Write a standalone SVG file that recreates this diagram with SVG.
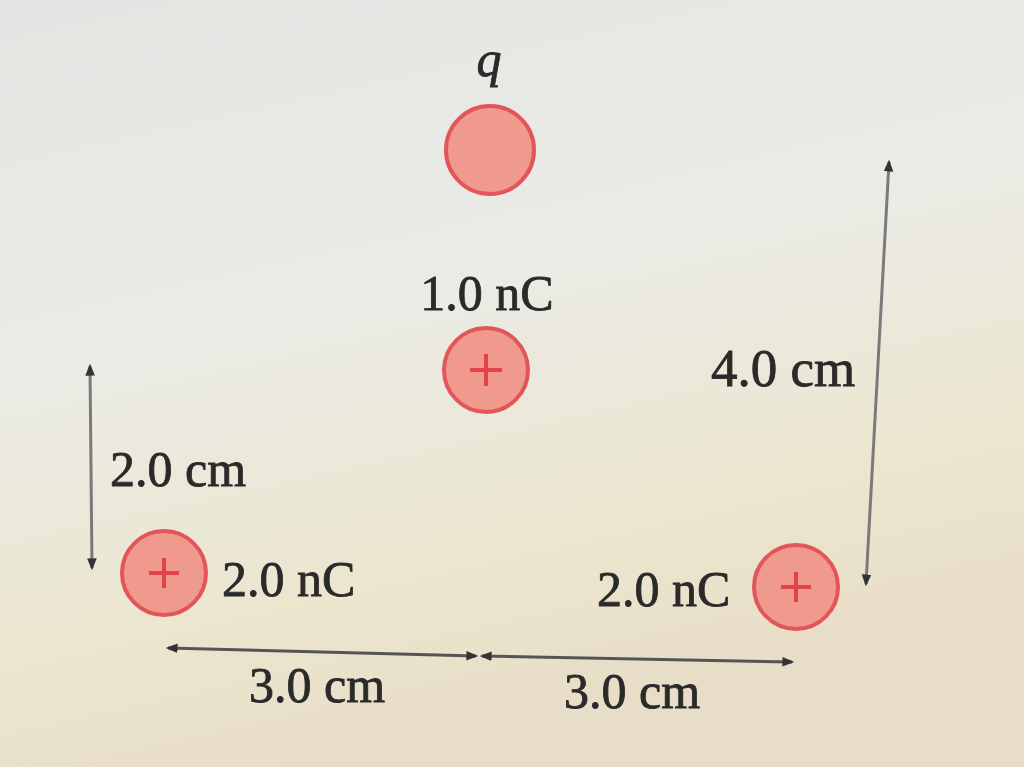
<svg xmlns="http://www.w3.org/2000/svg" width="1024" height="767" viewBox="0 0 1024 767">
<defs>
<linearGradient id="bg" x1="0" y1="0" x2="0.3" y2="1">
<stop offset="0" stop-color="#e4e4e2"/>
<stop offset="0.45" stop-color="#ebebe6"/>
<stop offset="0.8" stop-color="#ece6cf"/>
<stop offset="1" stop-color="#e8ddc6"/>
</linearGradient>
<marker id="ah" viewBox="0 0 10 10" refX="8" refY="5" markerWidth="4" markerHeight="4" orient="auto-start-reverse">
<path d="M0,1 L10,5 L0,9 Z" fill="#333"/>
</marker>
<style>
.chg{fill:#ef9a8c;stroke:#e2565a;stroke-width:4}
.plus{stroke:#e0434a;stroke-width:4;fill:none}
.lbl{font-family:"Liberation Serif","Times New Roman",serif;font-size:50px;fill:#2a2a2a;stroke:#2a2a2a;stroke-width:0.8}
.dim{stroke:#7a7a7a;stroke-width:3;fill:none}
</style>
</defs>
<rect width="1024" height="767" fill="url(#bg)"/>
<g id="charge-q">
<circle class="chg" cx="490" cy="150" r="44"/>
<text x="489" y="76" text-anchor="middle" class="lbl" style="font-style:italic">q</text>
</g>
<g id="charge-1nC">
<circle class="chg" cx="486" cy="370" r="42"/>
<path class="plus" d="M470,370 H502 M486,354 V386"/>
<text x="487" y="310" text-anchor="middle" class="lbl">1.0 nC</text>
</g>
<g id="charge-left">
<circle class="chg" cx="164" cy="573" r="42"/>
<path class="plus" d="M149,573 H179 M164,558 V588"/>
<text x="222" y="596" class="lbl">2.0 nC</text>
</g>
<g id="charge-right">
<circle class="chg" cx="796" cy="587" r="42"/>
<path class="plus" d="M781,587 H811 M796,572 V602"/>
<text x="597" y="606" class="lbl">2.0 nC</text>
</g>
<g id="connectors">
<line class="dim" x1="90" y1="366" x2="92" y2="568" marker-start="url(#ah)" marker-end="url(#ah)"/>
<line class="dim" x1="889" y1="162" x2="866" y2="584" marker-start="url(#ah)" marker-end="url(#ah)"/>
<line class="dim" x1="168" y1="648" x2="476" y2="656" style="stroke:#555" marker-start="url(#ah)" marker-end="url(#ah)"/>
<line class="dim" x1="482" y1="656" x2="792" y2="662" style="stroke:#555" marker-start="url(#ah)" marker-end="url(#ah)"/>
</g>
<g id="dimension-labels">
<text x="110" y="486" class="lbl">2.0 cm</text>
<text x="711" y="386" class="lbl" style="font-size:53px">4.0 cm</text>
<text x="249" y="702" class="lbl">3.0 cm</text>
<text x="564" y="708" class="lbl">3.0 cm</text>
</g>
</svg>
